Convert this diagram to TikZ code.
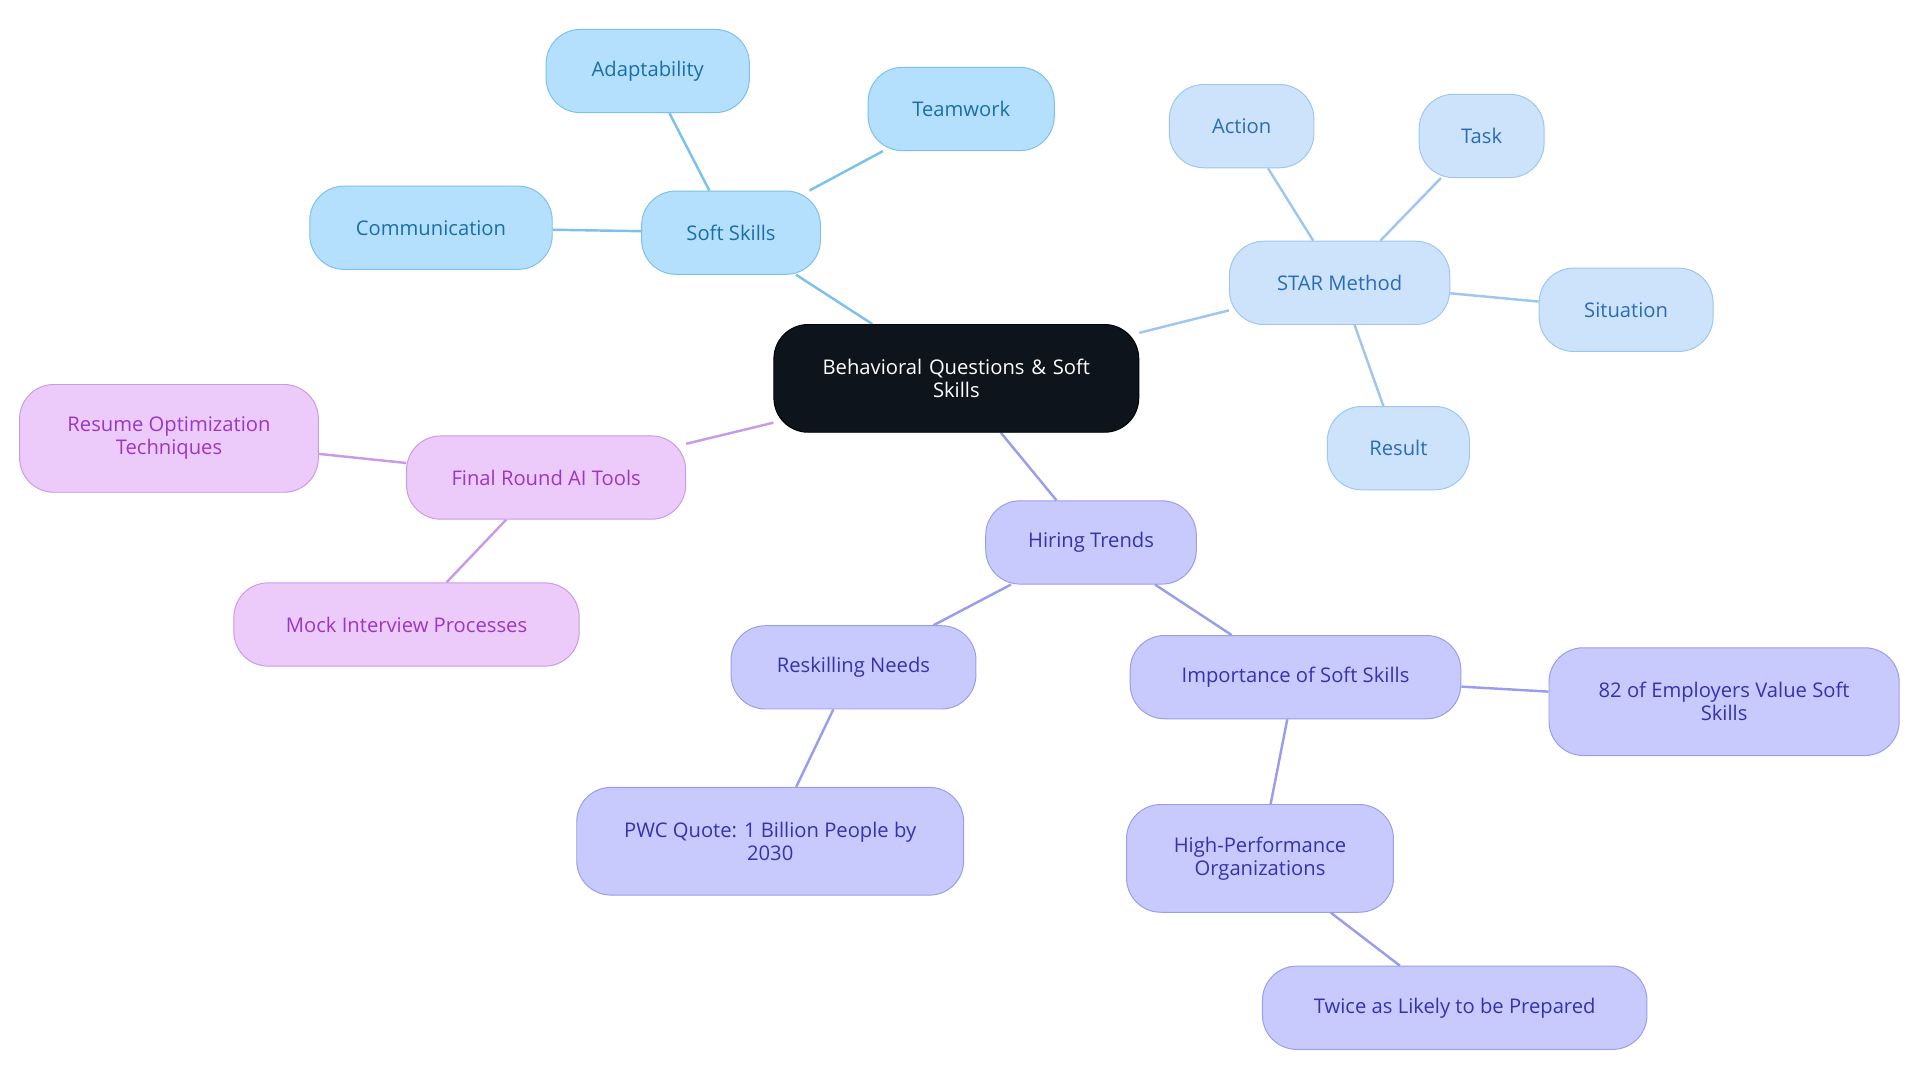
\documentclass[tikz,border=0pt]{standalone}
\usepackage{fontspec}
\setmainfont{Open Sans}
\usetikzlibrary{backgrounds}
\begin{document}
\begin{tikzpicture}[x=1pt,y=-1pt,
  base/.style={rounded corners=28pt,draw,line width=0.8pt,inner sep=0pt,align=center,font=\fontsize{16.5}{19}\selectfont},
  bl/.style={base,fill=blue1,draw=blue1d,text=blue1t},
  st/.style={base,fill=st1,draw=st1d,text=st1t},
  pu/.style={base,fill=pu1,draw=pu1d,text=pu1t},
  ind/.style={base,fill=in1,draw=in1d,text=in1t},
  e/.style={line width=2pt}]
\definecolor{blue1}{HTML}{B4E0FD}\definecolor{blue1d}{HTML}{7CC0EC}\definecolor{blue1t}{HTML}{1A6FA8}
\definecolor{st1}{HTML}{CDE3FB}\definecolor{st1d}{HTML}{9EC6EE}\definecolor{st1t}{HTML}{2A6CB8}
\definecolor{pu1}{HTML}{ECCBFB}\definecolor{pu1d}{HTML}{C99AE6}\definecolor{pu1t}{HTML}{9B36C7}
\definecolor{in1}{HTML}{C8CAFD}\definecolor{in1d}{HTML}{9A9CEC}\definecolor{in1t}{HTML}{3532B0}
\definecolor{dk}{HTML}{0D141C}
\useasboundingbox (0,0) rectangle (1568,884);
\node[base,fill=dk,draw=black,text=white,minimum width=298pt,minimum height=88pt,text width=260pt] (c) at (781,309) {Behavioral Questions \& Soft\\Skills};
\node[bl,minimum width=146pt,minimum height=68pt] (ss) at (597,190) {Soft Skills};
\node[bl,minimum width=166pt,minimum height=68pt] (ad) at (529,58) {Adaptability};
\node[bl,minimum width=152pt,minimum height=68pt] (tw) at (785,89) {Teamwork};
\node[bl,minimum width=198pt,minimum height=68pt] (cm) at (352,186) {Communication};
\node[st,minimum width=180pt,minimum height=68pt] (sm) at (1094,231) {STAR Method};
\node[st,minimum width=118pt,minimum height=68pt] (ac) at (1014,103) {Action};
\node[st,minimum width=102pt,minimum height=68pt] (ta) at (1210,111) {Task};
\node[st,minimum width=142pt,minimum height=68pt] (si) at (1328,253) {Situation};
\node[st,minimum width=116pt,minimum height=68pt] (re) at (1142,366) {Result};
\node[pu,minimum width=228pt,minimum height=68pt] (fr) at (446,390) {Final Round AI Tools};
\node[pu,minimum width=244pt,minimum height=88pt] (ro) at (138,358) {Resume Optimization\\Techniques};
\node[pu,minimum width=282pt,minimum height=68pt] (mi) at (332,510) {Mock Interview Processes};
\node[ind,minimum width=172pt,minimum height=68pt] (ht) at (891,443) {Hiring Trends};
\node[ind,minimum width=200pt,minimum height=68pt] (rn) at (697,545) {Reskilling Needs};
\node[ind,minimum width=316pt,minimum height=88pt] (pw) at (629,687) {PWC Quote: 1 Billion People by\\2030};
\node[ind,minimum width=270pt,minimum height=68pt] (is) at (1058,553) {Importance of Soft Skills};
\node[ind,minimum width=286pt,minimum height=88pt] (ep) at (1408,573) {82 of Employers Value Soft\\Skills};
\node[ind,minimum width=218pt,minimum height=88pt] (hp) at (1029,701) {High-Performance\\Organizations};
\node[ind,minimum width=314pt,minimum height=68pt] (tl) at (1188,823) {Twice as Likely to be Prepared};
\begin{scope}[on background layer]
\draw[e,blue1d] (c) -- (ss) (ss) -- (ad) (ss) -- (tw) (ss) -- (cm);
\draw[e,st1d] (c) -- (sm) (sm) -- (ac) (sm) -- (ta) (sm) -- (si) (sm) -- (re);
\draw[e,pu1d] (c) -- (fr) (fr) -- (ro) (fr) -- (mi);
\draw[e,in1d] (c) -- (ht) (ht) -- (rn) (rn) -- (pw) (ht) -- (is) (is) -- (ep) (is) -- (hp) (hp) -- (tl);
\end{scope}
\end{tikzpicture}
\end{document}
